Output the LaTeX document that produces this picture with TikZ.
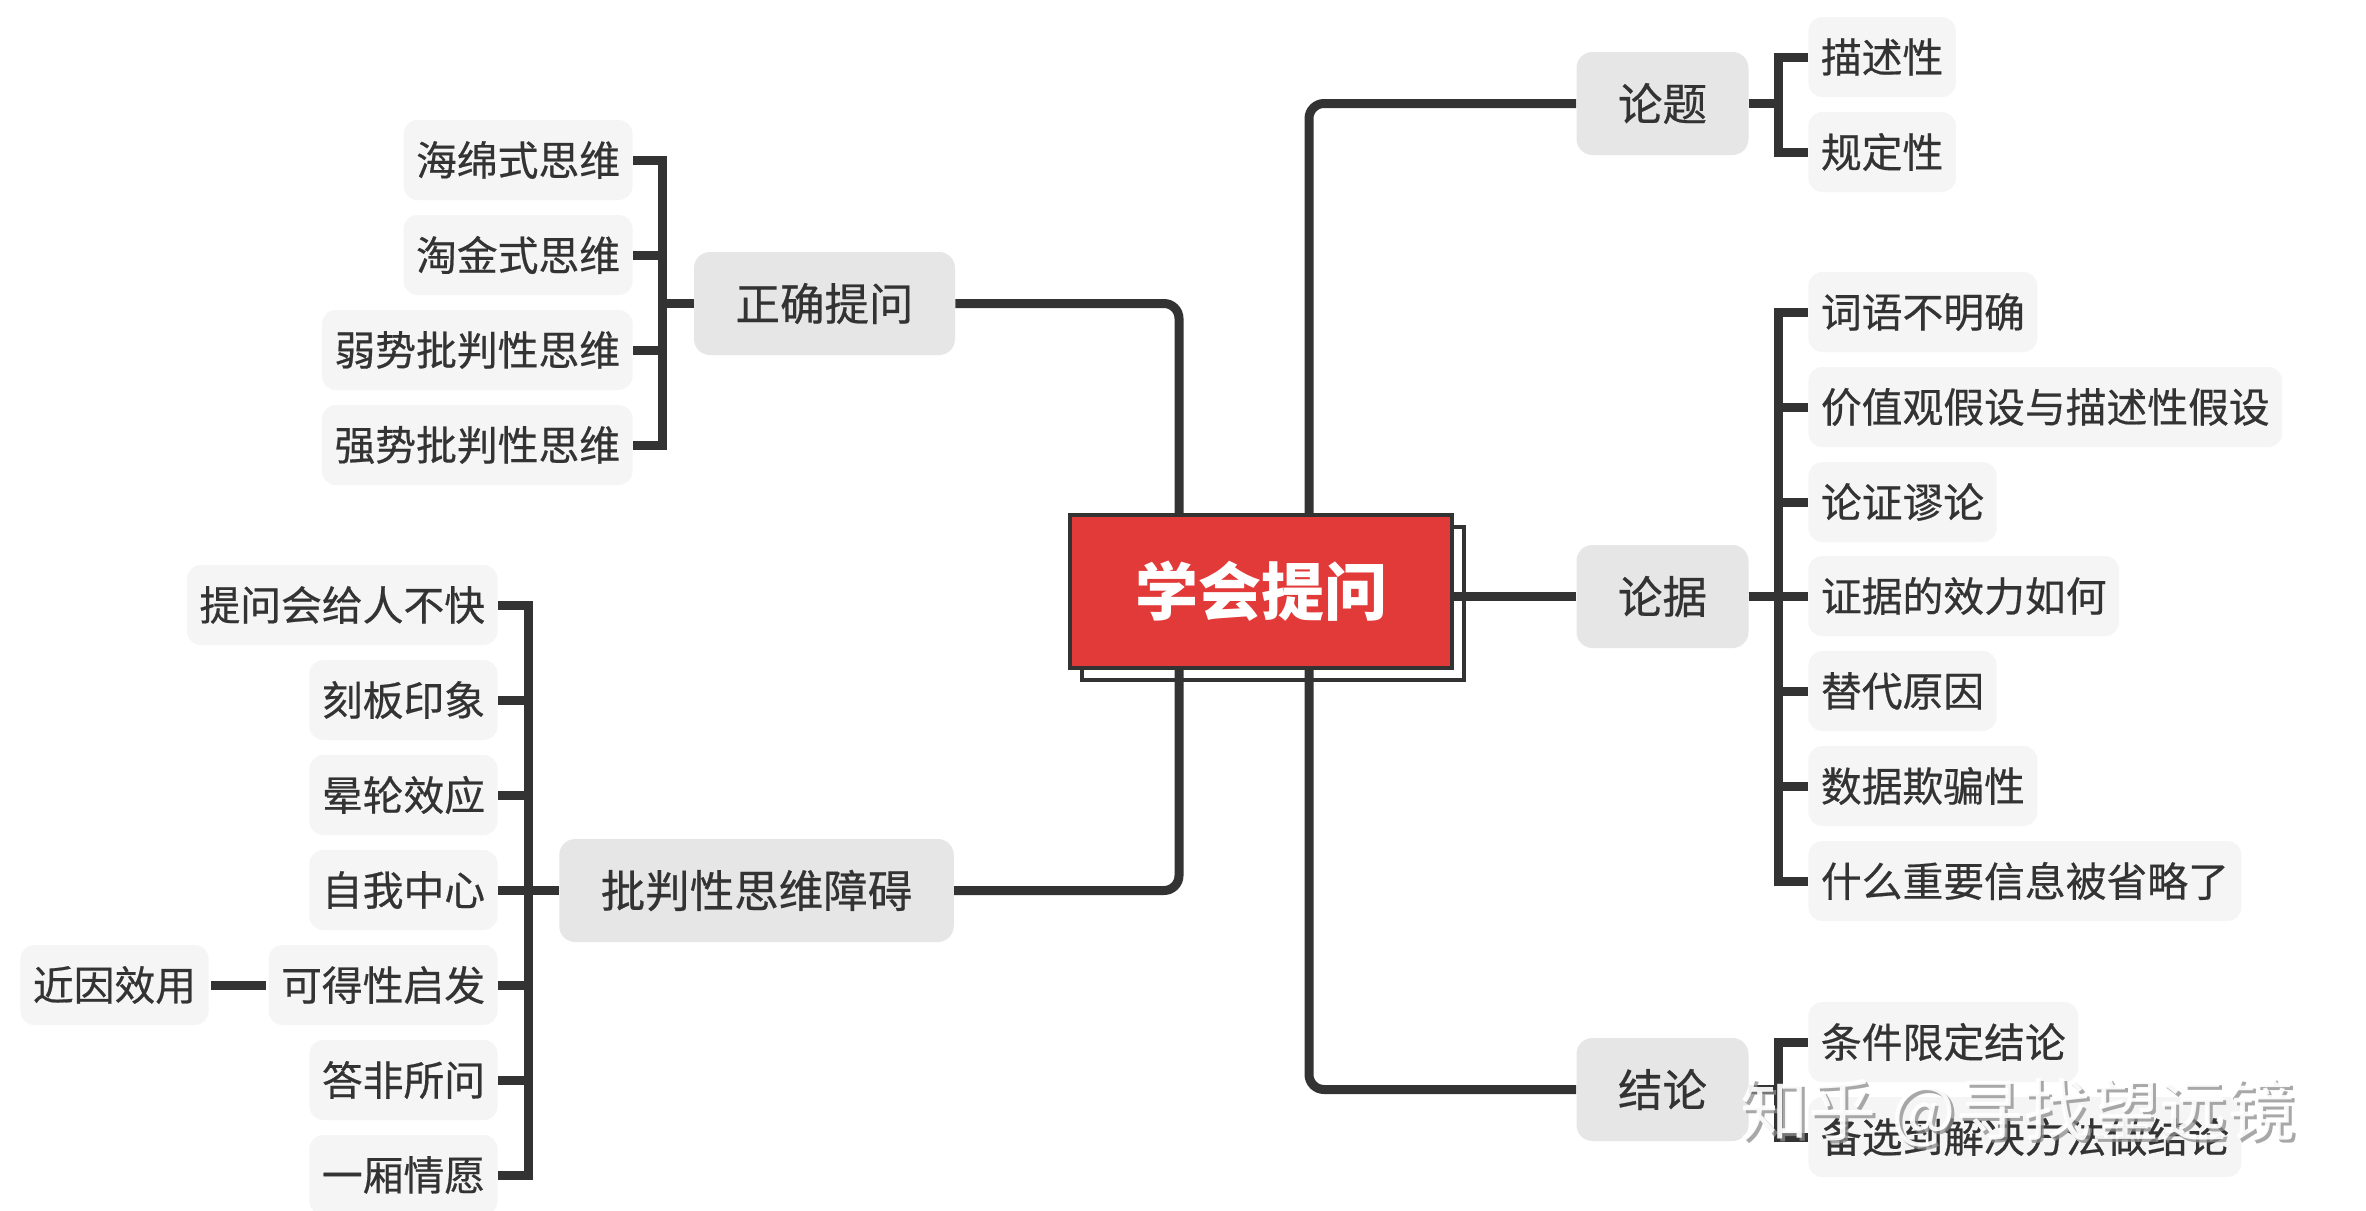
\documentclass[tikz,border=0pt]{standalone}
\usepackage{fontspec}
\setmainfont{Noto Sans CJK SC}
\newfontfamily\medfont[FakeBold=0.5]{Noto Sans CJK SC}
\definecolor{ink}{HTML}{333333}
\definecolor{redc}{HTML}{E23A38}
\definecolor{branchgray}{HTML}{E6E6E6}
\definecolor{leafgray}{HTML}{F5F5F5}
\tikzset{
  leaf/.style={fill=leafgray, rounded corners=7pt, minimum height=40pt, inner xsep=6.25pt, inner ysep=0pt, text=ink, font=\medfont\fontsize{20.4}{24}\selectfont},
  branch/.style={fill=branchgray, rounded corners=8pt, minimum height=51.5pt, minimum width=0pt, inner xsep=20.75pt, inner ysep=0pt, text=ink, font=\medfont\fontsize{22.25}{26}\selectfont},
  main/.style={draw=ink, line width=4.5pt, rounded corners=7.5pt},
  conn/.style={draw=ink, line width=4.5pt, line join=miter},
  centerbox/.style={fill=redc, draw=ink, line width=2pt, minimum width=191pt, minimum height=76.5pt, text=white, font=\fontsize{31.5}{36}\selectfont\bfseries},
  shadowbox/.style={draw=ink, line width=1.8pt, minimum width=191pt, minimum height=76.5pt, inner sep=0pt},
}
\begin{document}
\begin{tikzpicture}[x=0.5pt,y=-0.5pt]
\useasboundingbox (0,0) rectangle (2366,1210);
\fill[white] (0,0) rectangle (2366,1210);
\coordinate (xl) at (1179,0);
\coordinate (xr) at (1309,0);
% central
\node[shadowbox] (cs) at (1273,603.5) {};
\node[centerbox] (c) at (1261,591.5) {学会提问};
% right branches
\node[branch] (t1) at (1662.5,103.5) {论题};
\node[branch] (t2) at (1662.5,596.5) {论据};
\node[branch] (t3) at (1662.5,1089.5) {结论};
\node[leaf,anchor=west] (t1a) at (1808,57) {描述性};
\node[leaf,anchor=west] (t1b) at (1808,152) {规定性};
\node[leaf,anchor=west] (t2a) at (1808,312) {词语不明确};
\node[leaf,anchor=west] (t2b) at (1808,407) {价值观假设与描述性假设};
\node[leaf,anchor=west] (t2c) at (1808,502) {论证谬论};
\node[leaf,anchor=west] (t2d) at (1808,596) {证据的效力如何};
\node[leaf,anchor=west] (t2e) at (1808,691) {替代原因};
\node[leaf,anchor=west] (t2f) at (1808,786) {数据欺骗性};
\node[leaf,anchor=west] (t2g) at (1808,881) {什么重要信息被省略了};
\node[leaf,anchor=west] (t3a) at (1808,1042) {条件限定结论};
\node[leaf,anchor=west] (t3b) at (1808,1137) {备选到解决方法做结论};
% left branches
\node[branch] (b1) at (824.5,303.5) {正确提问};
\node[branch] (b2) at (756.5,890.5) {批判性思维障碍};
\node[leaf,anchor=east] (b1a) at (633,160) {海绵式思维};
\node[leaf,anchor=east] (b1b) at (633,255) {淘金式思维};
\node[leaf,anchor=east] (b1c) at (633,350) {弱势批判性思维};
\node[leaf,anchor=east] (b1d) at (633,445) {强势批判性思维};
\node[leaf,anchor=east] (b2a) at (498,605) {提问会给人不快};
\node[leaf,anchor=east] (b2b) at (498,700) {刻板印象};
\node[leaf,anchor=east] (b2c) at (498,795) {晕轮效应};
\node[leaf,anchor=east] (b2d) at (498,890) {自我中心};
\node[leaf,anchor=east] (b2e) at (498,985) {可得性启发};
\node[leaf,anchor=east] (b2f) at (498,1080) {答非所问};
\node[leaf,anchor=east] (b2g) at (498,1175) {一厢情愿};
\node[leaf,anchor=east] (j1) at (209,985) {近因效用};
% main connectors
\draw[main] (c.north -| xr) |- (t1.west);
\draw[main] (c.south -| xr) |- (t3.west);
\draw[main] (c.north -| xl) |- (b1.east);
\draw[main] (c.south -| xl) |- (b2.east);
\draw[main] (c.east |- t2.west) -- (t2.west);
% brackets right
\foreach \ch in {t1a,t1b} \draw[conn] (t1.east) -- ++(30,0) |- (\ch.west);
\foreach \ch in {t2a,t2b,t2c,t2d,t2e,t2f,t2g} \draw[conn] (t2.east) -- ++(30,0) |- (\ch.west);
\foreach \ch in {t3a,t3b} \draw[conn] (t3.east) -- ++(30,0) |- (\ch.west);
% brackets left
\foreach \ch in {b1a,b1b,b1c,b1d} \draw[conn] (b1.west) -- ++(-31,0) |- (\ch.east);
\foreach \ch in {b2a,b2b,b2c,b2d,b2e,b2f,b2g} \draw[conn] (b2.west) -- ++(-30,0) |- (\ch.east);
\draw[conn] ([xshift=1pt]j1.east) -- ([xshift=-1pt]b2e.west);
% watermark
\node[text=black!45, opacity=0.75, font=\fontsize{34}{40}\selectfont] (wms) at (2021,1116) {知乎 @寻找望远镜};
\node[text=white, opacity=0.92, font=\fontsize{34}{40}\selectfont] (wm) at (2018,1113) {知乎 @寻找望远镜};
\end{tikzpicture}
\end{document}
